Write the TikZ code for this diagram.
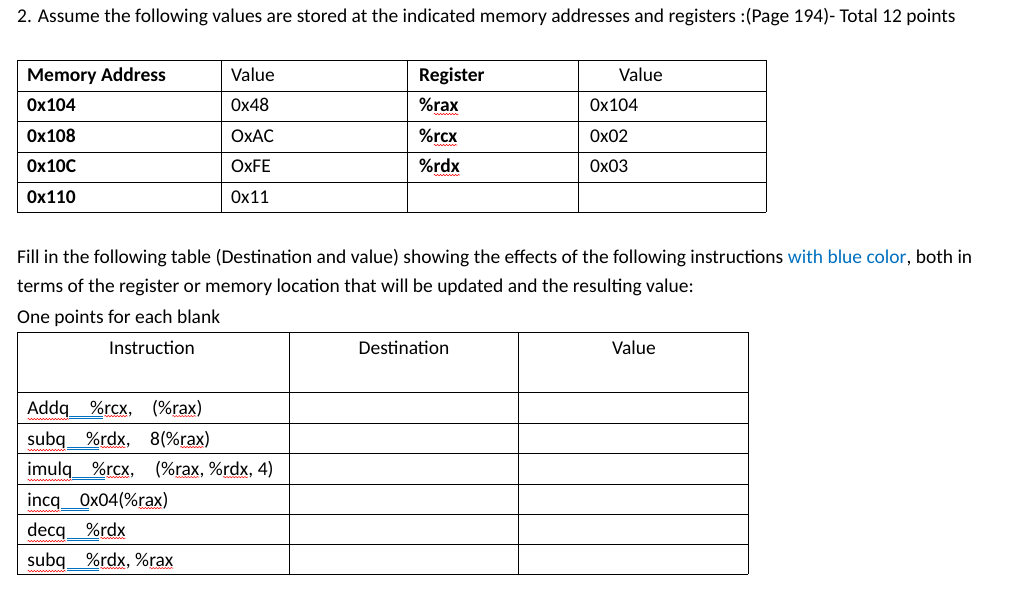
\documentclass[tikz,border=0pt]{standalone}
\usepackage{fontspec}
\setmainfont{Carlito}
\usetikzlibrary{decorations.pathmorphing}
\definecolor{wblue}{RGB}{0,112,192}
\newcommand{\sq}[1]{\tikz[baseline=(w.base)]{\node[inner sep=0pt,outer sep=0pt](w){#1};\draw[red,line width=0.5pt,decorate,decoration={snake,amplitude=0.7pt,segment length=3pt}] ([yshift=-2pt]w.south west)--([yshift=-2pt]w.south east);}}
\begin{document}
\begin{tikzpicture}[x=1pt,y=-1pt,
  grid/.style={line width=0.8pt,black},
  txt/.style={anchor=base west,inner sep=0pt,font=\fontsize{19.5}{23}\selectfont},
  ctr/.style={anchor=base,inner sep=0pt,font=\fontsize{19.5}{23}\selectfont},
  bf/.style={font=\fontsize{19.5}{23}\selectfont\bfseries},
  bl/.style={wblue,line width=0.6pt}]
\useasboundingbox[fill=white] (0,0) rectangle (1024,593);
\node[txt] (title) at (17,23) {2. Assume the following values are stored at the indicated memory addresses and registers :(Page 194)- Total 12 points};
% table 1
\foreach \yy in {60,91,121,152,182,212} \draw[grid] (17,\yy)--(766,\yy);
\foreach \xx in {17,221,407,578,766} \draw[grid] (\xx,60)--(\xx,212);
\node[txt,bf] (h1) at (27,82) {Memory Address};
\node[txt] (h2) at (231,82) {Value};
\node[txt,bf] (h3) at (419,82) {Register};
\node[ctr] (h4) at (641,82) {Value};
\node[txt,bf] (m1) at (27,112) {0x104};
\node[txt,bf] (m2) at (27,143) {0x108};
\node[txt,bf] (m3) at (27,173) {0x10C};
\node[txt,bf] (m4) at (27,204) {0x110};
\node[txt] (v1) at (231,112) {0x48};
\node[txt] (v2) at (231,143) {OxAC};
\node[txt] (v3) at (231,173) {OxFE};
\node[txt] (v4) at (231,204) {0x11};
\node[txt,bf] (r1) at (419,112) {\%\sq{rax}};
\node[txt,bf] (r2) at (419,143) {\%\sq{rcx}};
\node[txt,bf] (r3) at (419,173) {\%\sq{rdx}};
\node[txt] (rv1) at (590,112) {0x104};
\node[txt] (rv2) at (590,143) {0x02};
\node[txt] (rv3) at (590,173) {0x03};
% text
\node[txt] (p1) at (17,264) {Fill in the following table (Destination and value) showing the effects of the following instructions \textcolor{wblue}{with blue color}, both in};
\node[txt] (p2) at (17,293) {terms of the register or memory location that will be updated and the resulting value:};
\node[txt] (p3) at (17,323) {One points for each blank};
% table 2
\foreach \yy in {332,392,423,453,484,514,544,574} \draw[grid] (17,\yy)--(748,\yy);
\foreach \xx in {17,289,518,748} \draw[grid] (\xx,332)--(\xx,574);
\node[ctr] (t1) at (152,354) {Instruction};
\node[ctr] (t2) at (404,354) {Destination};
\node[ctr] (t3) at (634,354) {Value};
% rows
\node[txt] (a1) at (27,414) {\sq{Addq}};
\node[txt] (a2) at (90,414) {\%\sq{rcx},};
\node[txt] (a3) at (152,414) {(\%\sq{rax})};
\draw[bl] (69,416.5)--(103,416.5) (69,418.5)--(103,418.5);
\node[txt] (b1) at (27,445) {\sq{subq}};
\node[txt] (b2) at (86,445) {\%\sq{rdx},};
\node[txt] (b3) at (150,445) {8(\%\sq{rax})};
\draw[bl] (67,447.5)--(99,447.5) (67,449.5)--(99,449.5);
\node[txt] (c1) at (27,475) {\sq{imulq}};
\node[txt] (c2) at (92,475) {\%\sq{rcx},};
\node[txt] (c3) at (155,475) {(\%\sq{rax}, \%\sq{rdx}, 4)};
\draw[bl] (72,477.5)--(105,477.5) (72,479.5)--(105,479.5);
\node[txt] (d1) at (27,506) {\sq{incq}};
\node[txt] (d2) at (80,506) {0x04(\%\sq{rax})};
\draw[bl] (61,508.5)--(89,508.5) (61,510.5)--(89,510.5);
\node[txt] (e1) at (27,536) {\sq{decq}};
\node[txt] (e2) at (86,536) {\%\sq{rdx}};
\draw[bl] (67,538.5)--(99,538.5) (67,540.5)--(99,540.5);
\node[txt] (f1) at (27,566) {\sq{subq}};
\node[txt] (f2) at (86,566) {\%\sq{rdx}, \%\sq{rax}};
\draw[bl] (67,568.5)--(99,568.5) (67,570.5)--(99,570.5);
\end{tikzpicture}
\end{document}
